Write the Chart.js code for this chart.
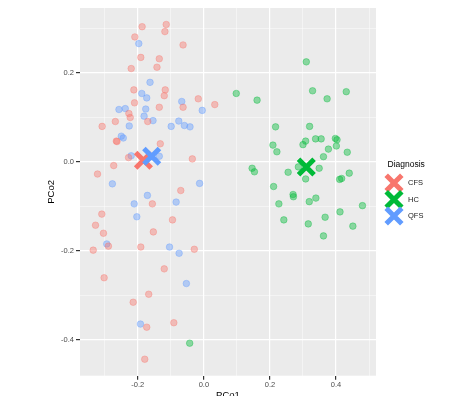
<!DOCTYPE html>
<html>
<head>
<meta charset="utf-8">
<script src="https://cdn.jsdelivr.net/npm/chart.js@4"></script>
<style>
  html, body { margin: 0; padding: 0; background: #fff; }
  #wrap { width: 474px; height: 396px; }
</style>
</head>
<body>
<div id="wrap"><canvas id="pcoa" width="474" height="396"></canvas></div>
<script>
// ----- DATA -----
const groups = ["CFS", "HC", "QFS"];
const groupColors = ["#F8766D", "#00BA38", "#619CFF"];

const cfsX = [-0.187, -0.114, -0.118, -0.209, -0.063, -0.191, -0.135, -0.220, -0.142, -0.212,
  -0.117, -0.120, -0.210, -0.017, 0.033, -0.063, -0.135, -0.227, -0.223, -0.268,
  -0.170, -0.308, -0.265, -0.263, -0.132, -0.228, -0.035, -0.273, -0.322, -0.070,
  -0.156, -0.309, -0.328, -0.095, -0.304, -0.153, -0.289, -0.335, -0.191, -0.029,
  -0.120, -0.302, -0.167, -0.214, -0.173, -0.091, -0.179];
const cfsY = [0.304, 0.309, 0.293, 0.281, 0.263, 0.235, 0.232, 0.210, 0.213, 0.162,
  0.162, 0.149, 0.133, 0.142, 0.129, 0.123, 0.123, 0.109, 0.100, 0.091,
  0.091, 0.080, 0.047, 0.046, 0.041, 0.010, 0.007, -0.008, -0.027, -0.064,
  -0.094, -0.117, -0.142, -0.130, -0.160, -0.157, -0.189, -0.198, -0.191, -0.196,
  -0.240, -0.260, -0.297, -0.315, -0.371, -0.361, -0.443];

const hcX = [-0.043, 0.098, 0.161, 0.310, 0.329, 0.373, 0.431, 0.217, 0.320, 0.338,
  0.355, 0.398, 0.403, 0.209, 0.300, 0.308, 0.221, 0.377, 0.401, 0.434,
  0.362, 0.146, 0.153, 0.255, 0.286, 0.349, 0.308, 0.440, 0.411, 0.417,
  0.211, 0.270, 0.271, 0.339, 0.319, 0.227, 0.480, 0.412, 0.367, 0.242,
  0.316, 0.451, 0.362];
const hcY = [-0.407, 0.154, 0.139, 0.225, 0.160, 0.142, 0.158, 0.079, 0.080, 0.052,
  0.052, 0.053, 0.050, 0.038, 0.039, 0.047, 0.023, 0.029, 0.036, 0.022,
  0.012, -0.014, -0.022, -0.023, -0.011, -0.014, -0.038, -0.025, -0.039, -0.037,
  -0.055, -0.073, -0.078, -0.081, -0.089, -0.094, -0.098, -0.112, -0.124, -0.130,
  -0.139, -0.144, -0.166];

const qfsX = [-0.197, -0.163, -0.188, -0.173, -0.067, -0.005, -0.257, -0.238, -0.176, -0.181,
  -0.154, -0.076, -0.099, -0.059, -0.042, -0.226, -0.250, -0.244, -0.220, -0.135,
  -0.277, -0.013, -0.171, -0.084, -0.211, -0.203, -0.294, -0.104, -0.075, -0.053,
  -0.192];
const qfsY = [0.266, 0.179, 0.154, 0.144, 0.136, 0.116, 0.118, 0.120, 0.119, 0.103,
  0.093, 0.092, 0.080, 0.082, 0.079, 0.081, 0.058, 0.054, 0.014, 0.013,
  -0.049, -0.048, -0.075, -0.090, -0.094, -0.123, -0.184, -0.191, -0.205, -0.273,
  -0.364];

// group centroids (big crosses)
const centroidX = [-0.183, 0.310, -0.158];
const centroidY = [0.004, -0.011, 0.013];

// axis breaks
const xTicks = [-0.3, -0.2, -0.1, 0.0, 0.1, 0.2, 0.3, 0.4, 0.5];
const yTicks = [-0.4, -0.3, -0.2, -0.1, 0.0, 0.1, 0.2, 0.3];
const xLimits = [-0.375, 0.521];
const yLimits = [-0.480, 0.346];

// ----- helpers -----
function rgba(hex, a) {
  const n = parseInt(hex.slice(1), 16);
  return `rgba(${(n >> 16) & 255},${(n >> 8) & 255},${n & 255},${a})`;
}
const isMajor = v => Math.abs(Math.round(v * 10)) % 2 === 0;
const toPoints = (xs, ys) => xs.map((x, i) => ({ x: x, y: ys[i] }));

const pointSets = [toPoints(cfsX, cfsY), toPoints(hcX, hcY), toPoints(qfsX, qfsY)];

const datasets = [];
groups.forEach((g, i) => {
  datasets.push({
    label: g,
    data: pointSets[i],
    backgroundColor: rgba(groupColors[i], 0.42),
    borderColor: rgba(groupColors[i], 0.35),
    borderWidth: 1,
    pointRadius: 3.3,
    order: 5 + i
  });
});
// centroids, QFS drawn on top
const centroidOrder = [2, 1, 0];
groups.forEach((g, i) => {
  datasets.push({
    label: g + " centroid",
    data: [{ x: centroidX[i], y: centroidY[i] }],
    pointStyle: "crossRot",
    pointRadius: 11,
    borderWidth: 5,
    borderColor: groupColors[i],
    backgroundColor: groupColors[i],
    order: centroidOrder[i]
  });
});

// grey panel
const panelBg = {
  id: "panelBg",
  beforeDraw(chart) {
    const a = chart.chartArea;
    const ctx = chart.ctx;
    ctx.save();
    ctx.fillStyle = "#EBEBEB";
    ctx.fillRect(a.left, a.top, a.right - a.left, a.bottom - a.top);
    ctx.restore();
  }
};

// axis titles + legend, ggplot style
const decorations = {
  id: "decorations",
  afterDraw(chart) {
    const a = chart.chartArea;
    const ctx = chart.ctx;
    ctx.save();
    ctx.fillStyle = "#000";
    ctx.font = "9.5px 'Liberation Sans', Arial, sans-serif";
    ctx.textAlign = "center";
    ctx.textBaseline = "top";
    ctx.fillText("PCo1", (a.left + a.right) / 2, 391);

    ctx.save();
    ctx.translate(51, (a.top + a.bottom) / 2);
    ctx.rotate(-Math.PI / 2);
    ctx.textBaseline = "middle";
    ctx.fillText("PCo2", 0, 0);
    ctx.restore();

    // legend
    ctx.textAlign = "left";
    ctx.textBaseline = "middle";
    ctx.font = "8.5px 'Liberation Sans', Arial, sans-serif";
    ctx.fillText("Diagnosis", 387.5, 165);
    ctx.font = "7.5px 'Liberation Sans', Arial, sans-serif";
    ctx.fillStyle = "#1a1a1a";
    const keyY = [183, 199.5, 216];
    groups.forEach((g, i) => {
      const cx = 394, cy = keyY[i], h = 7.8;
      ctx.strokeStyle = groupColors[i];
      ctx.lineWidth = 5;
      ctx.beginPath();
      ctx.moveTo(cx - h, cy - h); ctx.lineTo(cx + h, cy + h);
      ctx.moveTo(cx - h, cy + h); ctx.lineTo(cx + h, cy - h);
      ctx.stroke();
      ctx.fillText(g, 408, cy);
    });
    ctx.restore();
  }
};

function gridFor() {
  return {
    color: c => isMajor(c.tick.value) ? "#FFFFFF" : "rgba(255,255,255,0.75)",
    lineWidth: c => isMajor(c.tick.value) ? 1.2 : 0.6,
    tickColor: c => isMajor(c.tick.value) ? "#333333" : "rgba(0,0,0,0)",
    tickLength: 4,
    drawTicks: true
  };
}

new Chart(document.getElementById("pcoa"), {
  type: "scatter",
  data: { datasets: datasets },
  plugins: [panelBg, decorations],
  options: {
    responsive: false,
    animation: false,
    events: [],
    layout: { autoPadding: false, padding: { left: 0, right: 98, top: 8, bottom: 0 } },
    plugins: {
      legend: { display: false },
      tooltip: { enabled: false }
    },
    scales: {
      x: {
        type: "linear",
        min: xLimits[0],
        max: xLimits[1],
        afterBuildTicks: s => { s.ticks = xTicks.map(v => ({ value: v })); },
        afterFit: s => { s.height = 20.3; s.paddingLeft = 0; s.paddingRight = 0; },
        border: { display: false },
        grid: gridFor(),
        ticks: {
          autoSkip: false,
          maxRotation: 0,
          padding: 1,
          color: "#4D4D4D",
          font: { size: 7.5, family: "'Liberation Sans', Arial, sans-serif" },
          callback: v => isMajor(v) ? v.toFixed(1) : ""
        }
      },
      y: {
        type: "linear",
        min: yLimits[0],
        max: yLimits[1],
        afterBuildTicks: s => { s.ticks = yTicks.map(v => ({ value: v })); },
        afterFit: s => { s.width = 80; s.paddingTop = 0; s.paddingBottom = 0; },
        border: { display: false },
        grid: gridFor(),
        ticks: {
          autoSkip: false,
          padding: 2,
          color: "#4D4D4D",
          font: { size: 7.5, family: "'Liberation Sans', Arial, sans-serif" },
          callback: v => isMajor(v) ? v.toFixed(1) : ""
        }
      }
    }
  }
});
</script>
</body>
</html>
